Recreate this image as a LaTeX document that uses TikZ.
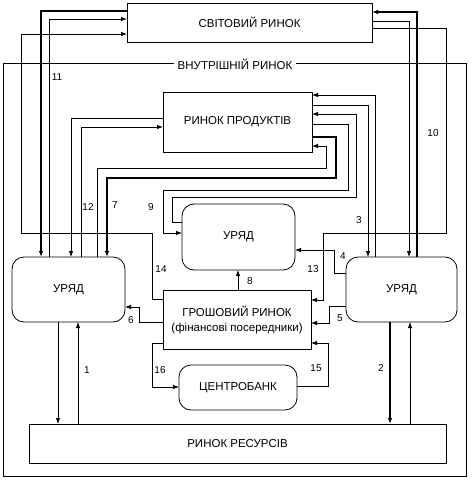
\documentclass[tikz,border=0pt]{standalone}
\usepackage{fontspec}
\setmainfont{Liberation Sans}
\usetikzlibrary{arrows.meta}
\begin{document}
\begin{tikzpicture}[x=1pt,y=-1pt,
  font=\fontsize{11.5}{15}\selectfont,
  ln/.style={line width=0.8pt},
  thk/.style={line width=1.6pt},
  arr/.style={-{Latex[length=6pt,width=4.5pt]}},
  sqbox/.style={draw,line width=0.8pt,inner sep=0pt,outer sep=0pt},
  rbox/.style={draw,line width=0.8pt,rounded corners=12pt,inner sep=0pt,outer sep=0pt},
  num/.style={inner sep=0pt,font=\fontsize{10}{12}\selectfont}]
\useasboundingbox (0,0) rectangle (474,481);
\fill[white] (0,0) rectangle (474,481);
% outer frame
\draw[line width=1pt] (3,64) rectangle (466,476);
\node[fill=white,inner sep=4pt] (inner) at (235,64) {ВНУТРІШНІЙ РИНОК};
% boxes
\node[sqbox,minimum width=245pt,minimum height=39pt] (wm) at (249.5,22.5) {СВІТОВИЙ РИНОК};
\node[sqbox,minimum width=149pt,minimum height=60pt] (prod) at (237.5,122) {РИНОК ПРОДУКТІВ};
\node[rbox,minimum width=113pt,minimum height=66pt] (govc) at (238.5,237) {УРЯД};
\node[rbox,minimum width=113pt,minimum height=65pt] (govl) at (68.5,289.5) {УРЯД};
\node[rbox,minimum width=111pt,minimum height=65pt] (govr) at (401.5,289.5) {УРЯД};
\node[sqbox,minimum width=148pt,minimum height=59pt,align=center] (money) at (237,319.5) {ГРОШОВИЙ РИНОК\\(фінансові посередники)};
\node[rbox,minimum width=118pt,minimum height=45pt] (cb) at (238,387.5) {ЦЕНТРОБАНК};
\node[sqbox,minimum width=417pt,minimum height=39pt] (res) at (237.5,443.5) {РИНОК РЕСУРСІВ};
% world market links
\draw[thk,arr] (wm.west |- 0,11) -| (41,0 |- govl.north);
\draw[ln,arr] (49,0 |- govl.north) |- (wm.west |- 0,19);
\draw[ln,arr] (money.west |- 0,299) -- (152,299) -- (152,233) -- (21,233) -- (21,34) -- (wm.west |- 0,34);
\draw[ln,arr] (wm.east |- 0,21) -| (409,0 |- govr.north);
\draw[thk,arr] (417,0 |- govr.north) |- (wm.east |- 0,12);
\draw[ln,arr] (wm.east |- 0,28) -- (446,28) -- (446,233) -- (323,233) -- (323,300) -- (money.east |- 0,300);
% product market links
\draw[ln,arr] (prod.east |- 0,105) -| (368,0 |- govr.north);
\draw[ln,arr] (375,0 |- govr.north) |- (prod.east |- 0,95);
\draw[ln,arr] (prod.east |- 0,124) -- (348,124) -- (348,190) -- (163,190) -- (163,233) -- (govc.west |- 0,233);
\draw[ln,arr] (govc.west |- 0,222) -- (172,222) -- (172,197) -- (356,197) -- (356,114) -- (prod.east |- 0,114);
\draw[thk,arr] (prod.east |- 0,137) -- (336,137) -- (336,178) -- (107,178) -- (107,0 |- govl.north);
\draw[ln,arr] (97,0 |- govl.north) -- (97,168) -- (326,168) -- (326,146) -- (prod.east |- 0,146);
\draw[ln,arr] (prod.west |- 0,118) -| (71,0 |- govl.north);
\draw[ln,arr] (81,0 |- govl.north) |- (prod.west |- 0,127);
% money market links
\draw[ln,arr] (govr.west |- 0,273) -- (334,273) -- (334,250) -- (govc.east |- 0,250);
\draw[ln,arr] (govr.west |- 0,306) -- (329,306) -- (329,323) -- (money.east |- 0,323);
\draw[ln,arr] (cb.east |- 0,386) -- (328,386) -- (328,343) -- (money.east |- 0,343);
\draw[ln,arr] (238,0 |- money.north) -- (238,0 |- govc.south);
\draw[ln,arr] (money.west |- 0,322) -- (139,322) -- (139,307) -- (govl.east |- 0,307);
\draw[ln,arr] (money.west |- 0,343) -- (152,343) -- (152,387) -- (cb.west |- 0,387);
% resource market links
\draw[ln,arr] (58,0 |- govl.south) -- (58,0 |- res.north);
\draw[ln,arr] (78,0 |- res.north) -- (78,0 |- govl.south);
\draw[thk,arr] (390,0 |- govr.south) -- (390,0 |- res.north);
\draw[ln,arr] (410,0 |- res.north) -- (410,0 |- govr.south);
% labels
\node[num] (l11) at (57,77) {11};
\node[num] (l10) at (433,133) {10};
\node[num] (l12) at (88,207) {12};
\node[num] (l7) at (115,205) {7};
\node[num] (l9) at (151,207) {9};
\node[num] (l3) at (359,220) {3};
\node[num] (l14) at (161,269) {14};
\node[num] (l13) at (313,269) {13};
\node[num] (l4) at (343,256) {4};
\node[num] (l8) at (250,281) {8};
\node[num] (l6) at (131,320) {6};
\node[num] (l5) at (340,318) {5};
\node[num] (l16) at (160,370) {16};
\node[num] (l15) at (316,368) {15};
\node[num] (l1) at (87,370) {1};
\node[num] (l2) at (381,368) {2};
\end{tikzpicture}
\end{document}
